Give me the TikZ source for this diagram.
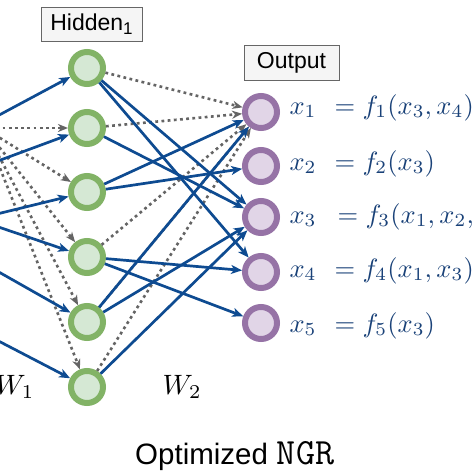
\documentclass[tikz,border=0pt]{standalone}
\usepackage{fontspec}
\newfontfamily\labfont{Liberation Sans}
\usetikzlibrary{arrows.meta}
\definecolor{blu}{RGB}{14,75,145}
\definecolor{dgray}{RGB}{100,100,100}
\definecolor{mathblu}{RGB}{25,65,120}
\definecolor{hring}{RGB}{130,179,102}
\definecolor{hfill}{RGB}{213,232,212}
\definecolor{oring}{RGB}{150,115,166}
\definecolor{ofill}{RGB}{225,213,231}
\definecolor{boxfill}{RGB}{245,245,245}
\definecolor{boxdraw}{RGB}{102,102,102}
\begin{document}
\begin{tikzpicture}[x=1pt,y=-1pt,
  hid/.style={circle,draw=hring,fill=hfill,line width=6pt,minimum size=32pt,inner sep=0pt},
  outn/.style={circle,draw=oring,fill=ofill,line width=6pt,minimum size=32pt,inner sep=0pt},
  bl/.style={draw=blu,line width=2.7pt,-{Stealth[length=11pt,width=9pt,inset=3pt]}},
  dt/.style={draw=dgray,line width=2.6pt,dash pattern=on 2.8pt off 3.4pt,-{Stealth[length=10pt,width=8pt,inset=3pt]}},
  labbox/.style={draw=boxdraw,fill=boxfill,line width=0.8pt,inner sep=0pt,font=\labfont\fontsize{23}{26}\selectfont},
  eq/.style={inner sep=0pt,text=mathblu,font=\normalsize,scale=2.65},
  wl/.style={inner sep=0pt,font=\normalsize,scale=2.8}]
\useasboundingbox (0,0) rectangle (474,474);
\fill[white] (0,0) rectangle (474,474);

% labels
\node[labbox,minimum width=101pt,minimum height=34pt] (lh) at (91.5,24) {Hidden\raisebox{-4pt}{\fontsize{17}{17}\selectfont 1}};
\node[labbox,minimum width=95pt,minimum height=35pt] (lo) at (291.5,62.5) {Output};

% hidden nodes
\node[hid] (h1) at (87,68) {};
\node[hid] (h2) at (87,128) {};
\node[hid] (h3) at (87,192) {};
\node[hid] (h4) at (87,257) {};
\node[hid] (h5) at (87,322) {};
\node[hid] (h6) at (87,387) {};

% output nodes
\node[outn] (o1) at (261,112) {};
\node[outn] (o2) at (261,166) {};
\node[outn] (o3) at (261,217) {};
\node[outn] (o4) at (261,272) {};
\node[outn] (o5) at (261,323) {};

% sources off the left edge
\coordinate (g) at (-16,128);
\coordinate (s1) at (-40,136);
\coordinate (s2) at (-40,175);
\coordinate (s3) at (-40,223);
\coordinate (s4) at (-40,214);
\coordinate (s5) at (-40,250);
\coordinate (s6) at (-40,321);

% W1 dotted
\draw[dt] (g) -- (h2);
\draw[dt] (g) -- (h3);
\draw[dt] (g) -- (h4);
\draw[dt] (g) -- (h5);
\draw[dt] (g) -- (h6);
% W1 blue
\draw[bl] (s1) -- (h1);
\draw[bl] (s2) -- (h2);
\draw[bl] (s3) -- (h3);
\draw[bl] (s4) -- (h4);
\draw[bl] (s5) -- (h5);
\draw[bl] (s6) -- (h6);

% W2 dotted
\draw[dt] (h1) -- (o1);
\draw[dt] (h2) -- (o1);
\draw[dt] (h4) -- (o1);
\draw[dt] (h5) -- (o1);
\draw[dt] (h6) -- (o1);
% W2 blue
\draw[bl] (h1) -- (o3);
\draw[bl] (h1) -- (o4);
\draw[bl] (h2) -- (o3);
\draw[bl] (h3) -- (o1);
\draw[bl] (h3) -- (o2);
\draw[bl] (h4) -- (o4);
\draw[bl] (h4) -- (o5);
\draw[bl] (h5) -- (o1);
\draw[bl] (h5) -- (o3);
\draw[bl] (h6) -- (o3);

% equations
\node[eq,anchor=base west] (x1) at (289,114) {$x_1$};
\node[eq,anchor=base west] (f1) at (334,114) {$=f_1(x_3,x_4)$};
\node[eq,anchor=base west] (x2) at (289,170) {$x_2$};
\node[eq,anchor=base west] (f2) at (334,170) {$=f_2(x_3)$};
\node[eq,anchor=base west] (x3) at (289,223) {$x_3$};
\node[eq,anchor=base west] (f3) at (337,223) {$=f_3(x_1,x_2,$};
\node[eq,anchor=base west] (x4) at (289,277) {$x_4$};
\node[eq,anchor=base west] (f4) at (334,277) {$=f_4(x_1,x_3)$};
\node[eq,anchor=base west] (x5) at (289,332) {$x_5$};
\node[eq,anchor=base west] (f5) at (334,332) {$=f_5(x_3)$};

% weights
\node[wl,anchor=base east] (w1) at (35,394) {$W_1$};
\node[wl,anchor=base west] (w2) at (162,394) {$W_2$};

% title
\node[inner sep=0pt,anchor=base west] (title) at (135,464) {{\labfont\fontsize{29.5}{32}\selectfont Optimized}\hspace{9pt}{\ttfamily\addfontfeatures{FakeBold=3}\fontsize{37}{40}\selectfont NGR}};
\end{tikzpicture}
\end{document}
